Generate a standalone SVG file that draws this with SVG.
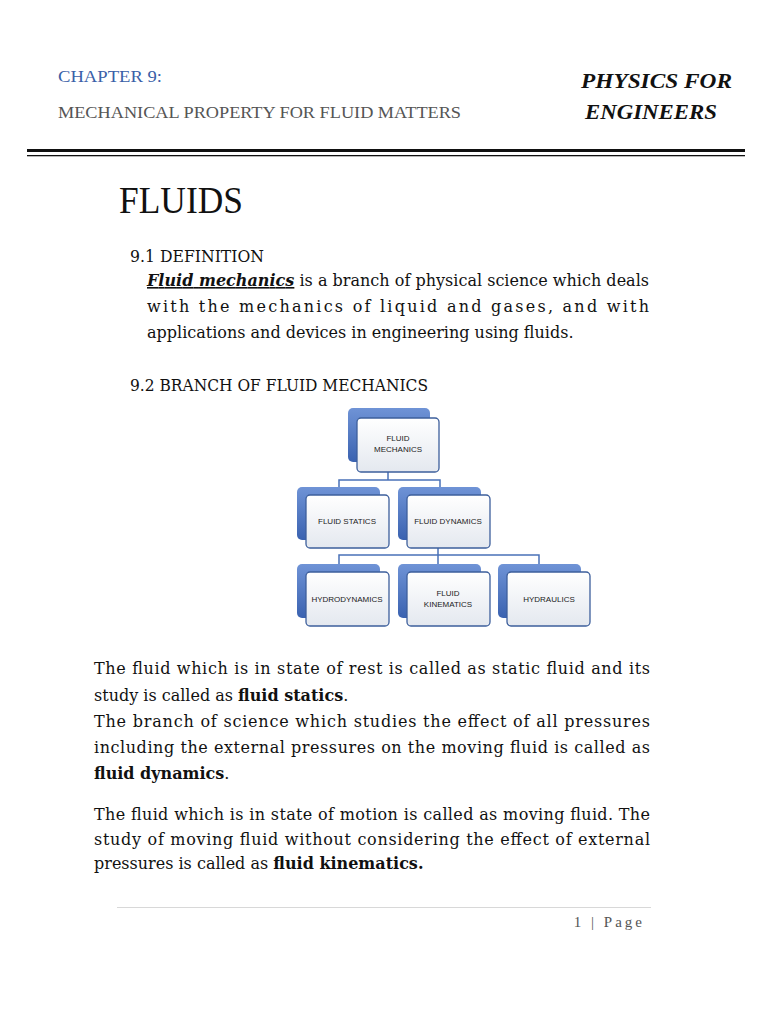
<svg xmlns="http://www.w3.org/2000/svg" width="768" height="1024" viewBox="0 0 768 1024">
<defs>
<linearGradient id="bk" x1="0" y1="0" x2="0" y2="1"><stop offset="0" stop-color="#6f93d6"/><stop offset="1" stop-color="#3a62b0"/></linearGradient>
<linearGradient id="fr" x1="0" y1="0" x2="0" y2="1"><stop offset="0" stop-color="#ffffff"/><stop offset="1" stop-color="#e4e8ef"/></linearGradient>
</defs>
<style>
.t{font-family:"DejaVu Serif","Liberation Serif",serif;font-size:16px;fill:#111}
.b{font-weight:bold}
.n{font-family:"Liberation Sans",Arial,sans-serif;font-size:8px;fill:#222;text-anchor:middle}
.bk{fill:url(#bk)}
.fr{fill:url(#fr);stroke:#3d5f9c;stroke-width:1.3}
.c{fill:none;stroke:#4a72b8;stroke-width:1.5}
</style>
<rect width="768" height="1024" fill="#fff"/>
<text x="58" y="82" font-family="Liberation Serif,serif" font-size="17" fill="#3a5fa8" textLength="104" lengthAdjust="spacingAndGlyphs">CHAPTER 9:</text>
<text x="58" y="118" font-family="Liberation Serif,serif" font-size="17" fill="#555" textLength="403" lengthAdjust="spacingAndGlyphs">MECHANICAL PROPERTY FOR FLUID MATTERS</text>
<text x="581" y="88" font-family="Liberation Serif,serif" font-size="22" font-style="italic" font-weight="bold" fill="#111" textLength="151" lengthAdjust="spacingAndGlyphs">PHYSICS FOR</text>
<text x="585" y="119" font-family="Liberation Serif,serif" font-size="22" font-style="italic" font-weight="bold" fill="#111" textLength="132" lengthAdjust="spacingAndGlyphs">ENGINEERS</text>
<rect x="27" y="149" width="718" height="3" fill="#111"/>
<rect x="27" y="155" width="718" height="1.3" fill="#111"/>
<text x="119" y="213" font-family="Liberation Serif,serif" font-size="37" fill="#111" textLength="124" lengthAdjust="spacingAndGlyphs">FLUIDS</text>
<text x="130" y="262" class="t" textLength="134" lengthAdjust="spacingAndGlyphs">9.1 DEFINITION</text>
<text x="147" y="286" class="t" textLength="502" lengthAdjust="spacing"><tspan font-style="italic" font-weight="bold" text-decoration="underline">Fluid mechanics</tspan> is a branch of physical science which deals</text>
<text x="147" y="312" class="t" textLength="502" lengthAdjust="spacing">with the mechanics of liquid and gases, and with</text>
<text x="147" y="338" class="t">applications and devices in engineering using fluids.</text>
<text x="130" y="391" class="t" textLength="298" lengthAdjust="spacingAndGlyphs">9.2 BRANCH OF FLUID MECHANICS</text>
<g id="connectors">
<path class="c" d="M388 472V480M339 495V480H440V495"/>
<path class="c" d="M438 548V555M339 572V555H539V572M438 555V572"/>
</g>
<g id="n-mech"><rect class="bk" x="348" y="408" width="82" height="54" rx="5"/><rect class="fr" x="357" y="418" width="82" height="54" rx="4"/><text class="n" x="398" y="441">FLUID</text><text class="n" x="398" y="452">MECHANICS</text></g>
<g id="n-statics"><rect class="bk" x="297" y="487" width="83" height="53" rx="5"/><rect class="fr" x="306" y="495" width="83" height="53" rx="4"/><text class="n" x="347" y="524">FLUID STATICS</text></g>
<g id="n-dynamics"><rect class="bk" x="398" y="487" width="83" height="53" rx="5"/><rect class="fr" x="407" y="495" width="83" height="53" rx="4"/><text class="n" x="448" y="524">FLUID DYNAMICS</text></g>
<g id="n-hydro"><rect class="bk" x="297" y="564" width="83" height="54" rx="5"/><rect class="fr" x="306" y="572" width="83" height="54" rx="4"/><text class="n" x="347" y="602">HYDRODYNAMICS</text></g>
<g id="n-kin"><rect class="bk" x="398" y="564" width="83" height="54" rx="5"/><rect class="fr" x="407" y="572" width="83" height="54" rx="4"/><text class="n" x="448" y="596">FLUID</text><text class="n" x="448" y="607">KINEMATICS</text></g>
<g id="n-hydraulics"><rect class="bk" x="498" y="564" width="83" height="54" rx="5"/><rect class="fr" x="507" y="572" width="83" height="54" rx="4"/><text class="n" x="549" y="602">HYDRAULICS</text></g>
<text x="94" y="674" class="t" textLength="556" lengthAdjust="spacing">The fluid which is in state of rest is called as static fluid and its</text>
<text x="94" y="701" class="t">study is called as <tspan class="b">fluid statics</tspan>.</text>
<text x="94" y="727" class="t" textLength="556" lengthAdjust="spacing">The branch of science which studies the effect of all pressures</text>
<text x="94" y="753" class="t" textLength="556" lengthAdjust="spacing">including the external pressures on the moving fluid is called as</text>
<text x="94" y="779" class="t"><tspan class="b">fluid dynamics</tspan>.</text>
<text x="94" y="820" class="t" textLength="556" lengthAdjust="spacing">The fluid which is in state of motion is called as moving fluid. The</text>
<text x="94" y="845" class="t" textLength="556" lengthAdjust="spacing">study of moving fluid without considering the effect of external</text>
<text x="94" y="869" class="t">pressures is called as <tspan class="b">fluid kinematics.</tspan></text>
<rect x="117" y="907" width="534" height="1" fill="#d8d8d8"/>
<text x="645" y="927" text-anchor="end" font-family="Liberation Serif,serif" font-size="15" fill="#555" letter-spacing="3">1 | Page</text>
</svg>
